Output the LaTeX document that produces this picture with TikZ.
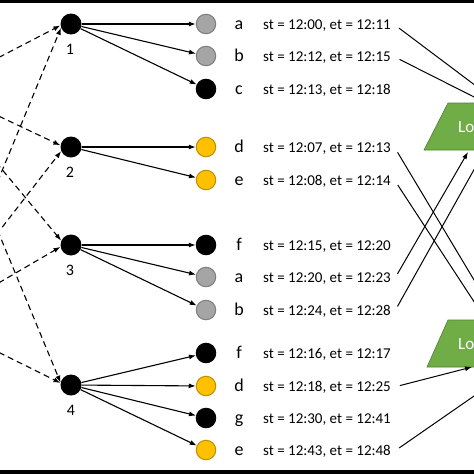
\documentclass[tikz,border=0pt]{standalone}
\usepackage{fontspec}
\setmainfont{Carlito}
\usetikzlibrary{arrows.meta}
\usepackage{xcolor}
\definecolor{dotgray}{HTML}{A5A5A5}
\definecolor{rimgray}{HTML}{7F7F7F}
\definecolor{dotgold}{HTML}{FFC000}
\definecolor{rimgold}{HTML}{BF9000}
\definecolor{logreen}{HTML}{70AD47}
\definecolor{rimgreen}{HTML}{507E32}

\begin{document}
\begin{tikzpicture}[x=1pt,y=-1pt,
  src/.style={circle,fill=black,minimum size=21pt,inner sep=0pt},
  ring/.style={circle,line width=1pt,minimum size=19.5pt,inner sep=0pt},
  grey ring/.style={ring,fill=dotgray,draw=rimgray},
  gold ring/.style={ring,fill=dotgold,draw=rimgold},
  black ring/.style={ring,fill=black,draw=black},
  num/.style={anchor=base,inner sep=0pt,font=\fontsize{16}{18}\selectfont},
  tag/.style={anchor=base,inner sep=0pt,font=\fontsize{18}{20}\selectfont},
  times/.style={anchor=base west,inner sep=4pt,font=\fontsize{15}{18}\selectfont},
  feed/.style={line width=1.1pt,-{Latex[length=7pt,width=5pt]}},
  prev/.style={line width=1.1pt,dash pattern=on 6pt off 4pt,-{Latex[length=7pt,width=5pt]}},
  tolo/.style={line width=1pt,shorten <=5pt,-{Latex[length=7pt,width=5pt]}}]

%frame
\useasboundingbox (0,0) rectangle (474,474);
\clip (0,0) rectangle (474,474);
\fill[black] (0,0) rectangle (474,3);
\fill[black] (0,470) rectangle (474,474);

%sources
\node[src] (s1) at (71,24) {};
\node[src] (s2) at (71,147) {};
\node[src] (s3) at (71,245) {};
\node[src] (s4) at (71,385) {};
\node[num] (n1) at (70,54) {1};
\node[num] (n2) at (70,177) {2};
\node[num] (n3) at (70,275) {3};
\node[num] (n4) at (71,415) {4};

%targets of 1
\node[grey ring] (t1) at (206,24) {};
\node[tag] (k1) at (239,29) {a};
\node[times] (w1) at (259,29) {st = 12:00, et = 12:11};
\node[grey ring] (t2) at (206,56) {};
\node[tag] (k2) at (239,61) {b};
\node[times] (w2) at (259,61) {st = 12:12, et = 12:15};
\node[black ring] (t3) at (206,89) {};
\node[tag] (k3) at (239,94) {c};
\node[times] (w3) at (259,94) {st = 12:13, et = 12:18};

%targets of 2
\node[gold ring] (t4) at (206,147) {};
\node[tag] (k4) at (239,152) {d};
\node[times] (w4) at (259,152) {st = 12:07, et = 12:13};
\node[gold ring] (t5) at (206,180) {};
\node[tag] (k5) at (239,185) {e};
\node[times] (w5) at (259,185) {st = 12:08, et = 12:14};

%targets of 3
\node[black ring] (t6) at (206,245) {};
\node[tag] (k6) at (239,250) {f};
\node[times] (w6) at (259,250) {st = 12:15, et = 12:20};
\node[grey ring] (t7) at (206,277) {};
\node[tag] (k7) at (239,282) {a};
\node[times] (w7) at (259,282) {st = 12:20, et = 12:23};
\node[grey ring] (t8) at (206,310) {};
\node[tag] (k8) at (239,315) {b};
\node[times] (w8) at (259,315) {st = 12:24, et = 12:28};

%targets of 4
\node[black ring] (t9) at (206,353) {};
\node[tag] (k9) at (239,358) {f};
\node[times] (w9) at (259,358) {st = 12:16, et = 12:17};
\node[gold ring] (t10) at (206,386) {};
\node[tag] (k10) at (239,391) {d};
\node[times] (w10) at (259,391) {st = 12:18, et = 12:25};
\node[black ring] (t11) at (206,418) {};
\node[tag] (k11) at (239,423) {g};
\node[times] (w11) at (259,423) {st = 12:30, et = 12:41};
\node[gold ring] (t12) at (206,450) {};
\node[tag] (k12) at (239,455) {e};
\node[times] (w12) at (259,455) {st = 12:43, et = 12:48};

%solid arrows
\draw[feed] (s1) -- (t1);
\draw[feed] (s1) -- (t2);
\draw[feed] (s1) -- (t3);
\draw[feed] (s2) -- (t4);
\draw[feed] (s2) -- (t5);
\draw[feed] (s3) -- (t6);
\draw[feed] (s3) -- (t7);
\draw[feed] (s3) -- (t8);
\draw[feed] (s4) -- (t9);
\draw[feed] (s4) -- (t10);
\draw[feed] (s4) -- (t11);
\draw[feed] (s4) -- (t12);

%dashed arrows from the left
\coordinate (pA) at (-10,62);
\coordinate (pB) at (-10,200);
\coordinate (pC) at (-10,112);
\coordinate (pD) at (-10,243);
\coordinate (pE) at (-10,155);
\coordinate (pF) at (-10,288);
\coordinate (pG) at (-10,212);
\coordinate (pH) at (-10,348);
\draw[prev] (pA) -- (s1.188);
\draw[prev] (pB) -- (s1.201);
\draw[prev] (pC) -- (s2.171);
\draw[prev] (pD) -- (s2.203);
\draw[prev] (pE) -- (s3.156);
\draw[prev] (pF) -- (s3.190);
\draw[prev] (pG) -- (s4.167);
\draw[prev] (pH) -- (s4.169);

%trapezoids
\fill[logreen,draw=rimgreen,line width=0.6pt] (448,103) -- (530,103) -- (510,150) -- (424,150) -- cycle;
\fill[logreen,draw=rimgreen,line width=0.6pt] (448,320) -- (530,320) -- (510,367) -- (427,367) -- cycle;
\node[anchor=base west,inner sep=0pt,text=white,font=\fontsize{17}{20}\selectfont] (lo1) at (458,132) {Lo};
\node[anchor=base west,inner sep=0pt,text=white,font=\fontsize{17}{20}\selectfont] (lo2) at (458,349) {Lo};

%arrows to the trapezoids
\coordinate (q1) at (492,98);
\coordinate (q2) at (486,103);
\coordinate (q7) at (468,152);
\coordinate (q8) at (485,150);
\coordinate (q4) at (498,320);
\coordinate (q5) at (486,320);
\coordinate (q10) at (472,367);
\coordinate (q12) at (500,378);
\draw[tolo] (w1.east) -- (q1);
\draw[tolo] (w2.east) -- (q2);
\draw[tolo] (w7.east) -- (q7);
\draw[tolo] (w8.east) -- (q8);
\draw[tolo] (w4.east) -- (q4);
\draw[tolo] (w5.east) -- (q5);
\draw[tolo] (w10.east) -- (q10);
\draw[tolo] (w12.east) -- (q12);
\end{tikzpicture}
\end{document}
